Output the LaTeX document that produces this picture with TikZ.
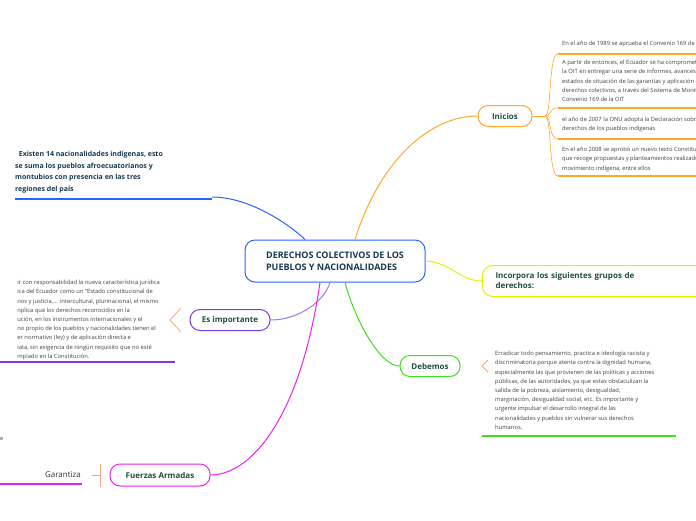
\documentclass[tikz,border=0pt]{standalone}
\usepackage{fontspec}
\setmainfont{Open Sans}
\definecolor{dk}{HTML}{16394F}
\definecolor{gr}{HTML}{1E5040}
\definecolor{org}{HTML}{FFA726}
\definecolor{blu}{HTML}{2962FF}
\definecolor{ylw}{HTML}{E3F100}
\definecolor{grn}{HTML}{3CE01C}
\definecolor{pur}{HTML}{7C3AED}
\definecolor{mag}{HTML}{EE20EE}
\definecolor{sal}{HTML}{F4A582}
\begin{document}
\begin{tikzpicture}[x=1pt,y=-1pt,
 box/.style={rounded corners=10pt,line width=1pt,fill=white,font=\fontsize{8}{10}\selectfont\bfseries,text=gr,inner sep=0pt},
 small/.style={font=\fontsize{5.8}{9.2}\selectfont,text=black!75,align=left,anchor=north west,inner sep=0pt},
 conn/.style={line width=1pt}]
\useasboundingbox (0,0) rectangle (696,520);
\node[box,draw=blu,text=dk,minimum width=180pt,minimum height=42pt,align=left,font=\fontsize{9}{12}\selectfont\bfseries] (c) at (335,261) {DERECHOS COLECTIVOS DE LOS\\PUEBLOS Y NACIONALIDADES};
% Inicios
\node[box,draw=org,minimum width=54pt,minimum height=21pt] (ini) at (505,116) {Inicios};
\draw[conn,org] (c.north) ++(20,0) .. controls (380,160) and (430,116) .. (ini.west);
\coordinate (b) at (545,116);
\draw[org,line width=0.6pt] (ini.east) -- (b);
\foreach \y in {54,108,139,176}{
 \draw[org,line width=0.6pt] (b) .. controls (552,116) and (548,\y) .. (558,\y);
 \draw[org,line width=1.5pt] (558,\y) -- (696,\y);}
\node[small] (i1) at (562,41) {En el año de 1989 se aprueba el Convenio 169 de la OIT};
\node[small] (i2) at (562,60) {A partir de entonces, el Ecuador se ha comprometido con\\la OIT en entregar una serie de informes, avances y\\estados de situación de las garantías y aplicación de los\\derechos colectivos, a través del  Sistema de Monitoreo del\\Convenio 169 de la OIT};
\node[small] (i3) at (562,117) {el año de 2007 la ONU adopta la Declaración sobre los\\derechos de los pueblos indígenas};
\node[small] (i4) at (562,147) {En el año 2008 se aprobó un nuevo texto Constitucional\\que recoge propuestas y planteamientos realizados por el\\movimiento indígena, entre ellos};
% blue
\node[anchor=north west,inner sep=0pt,align=left,font=\fontsize{7}{11.5}\selectfont\bfseries,text=dk] (n14) at (15,151) {\ \ Existen 14 nacionalidades indígenas, esto\\ se suma los pueblos afroecuatorianos y\\ montubios con presencia en las tres\\ regiones del país};
\draw[conn,blu] (c.north) ++(-30,0) .. controls (290,225) and (250,197) .. (212,197);
\draw[blu,line width=1.5pt] (15,199) -- (212,199);
% Incorpora
\node[box,draw=ylw,minimum width=230pt,minimum height=31pt,anchor=west,align=left,text width=220pt] (inc) at (482,281) {\hspace*{8pt}Incorpora los siguientes grupos de\\\hspace*{8pt}derechos:};
\draw[conn,ylw] (c.east) .. controls (450,262) and (460,281) .. (inc.west);
% Debemos
\node[box,draw=grn,minimum width=60pt,minimum height=21pt] (deb) at (430,366) {Debemos};
\draw[conn,grn] (c.south) ++(10,0) .. controls (355,320) and (380,366) .. (deb.west);
\draw[sal,line width=0.8pt] (488,360) -- (482,366) -- (488,372);
\node[small] (dt) at (495,351) {Erradicar todo pensamiento, practica e ideología racista y\\discriminatoria porque atenta contra la dignidad humana,\\especialmente las que provienen de las políticas y acciones\\públicas, de las autoridades, ya que estas obstaculizan la\\salida de la pobreza, aislamiento, desigualdad,\\marginación, desigualdad social, etc.  Es importante y\\urgente impulsar el desarrollo integral de las\\nacionalidades y pueblos sin vulnerar sus derechos\\humanos.};
\draw[grn,line width=1.5pt] (482,436) -- (676,436);
% Es importante
\node[box,draw=pur,minimum width=80pt,minimum height=21pt] (es) at (230,320) {Es importante};
\draw[conn,pur!70!white] (c.south) ++(-5,0) .. controls (325,300) and (300,320) .. (es.east);
\draw[sal,line width=0.8pt] (181,308) -- (170,320) -- (181,332);
\node[small,anchor=north east] (et) at (160,280) {ir con responsabilidad la nueva característica jurídica\\ica del Ecuador como un “Estado constitucional de\\nos y justicia,... intercultural, plurinacional, el mismo\\nplica que los derechos reconocidos en la\\ución, en los instrumentos internacionales y el\\no propio de los pueblos y nacionalidades tienen el\\er normativo (ley) y de aplicación directa e\\iata, sin exigencia de ningún requisito que no esté\\mplado en la Constitución.};
\draw[pur,line width=1.5pt] (0,362) -- (175,362);
\node[small,anchor=west] (e) at (0,439) {e};
% Fuerzas Armadas
\node[box,draw=mag,minimum width=100pt,minimum height=22pt] (fa) at (160,475) {Fuerzas Armadas};
\draw[conn,mag] (c.south) ++(-15,0) .. controls (300,420) and (250,475) .. (fa.east);
\draw[sal,line width=0.8pt] (100,464) -- (100,487) (92,475) -- (100,475);
\node[inner sep=0pt,font=\fontsize{8}{10}\selectfont,text=black!80,anchor=east] (ga) at (81,475) {Garantiza};
\draw[mag,line width=1.2pt] (0,484) -- (82,484);
\end{tikzpicture}
\end{document}
